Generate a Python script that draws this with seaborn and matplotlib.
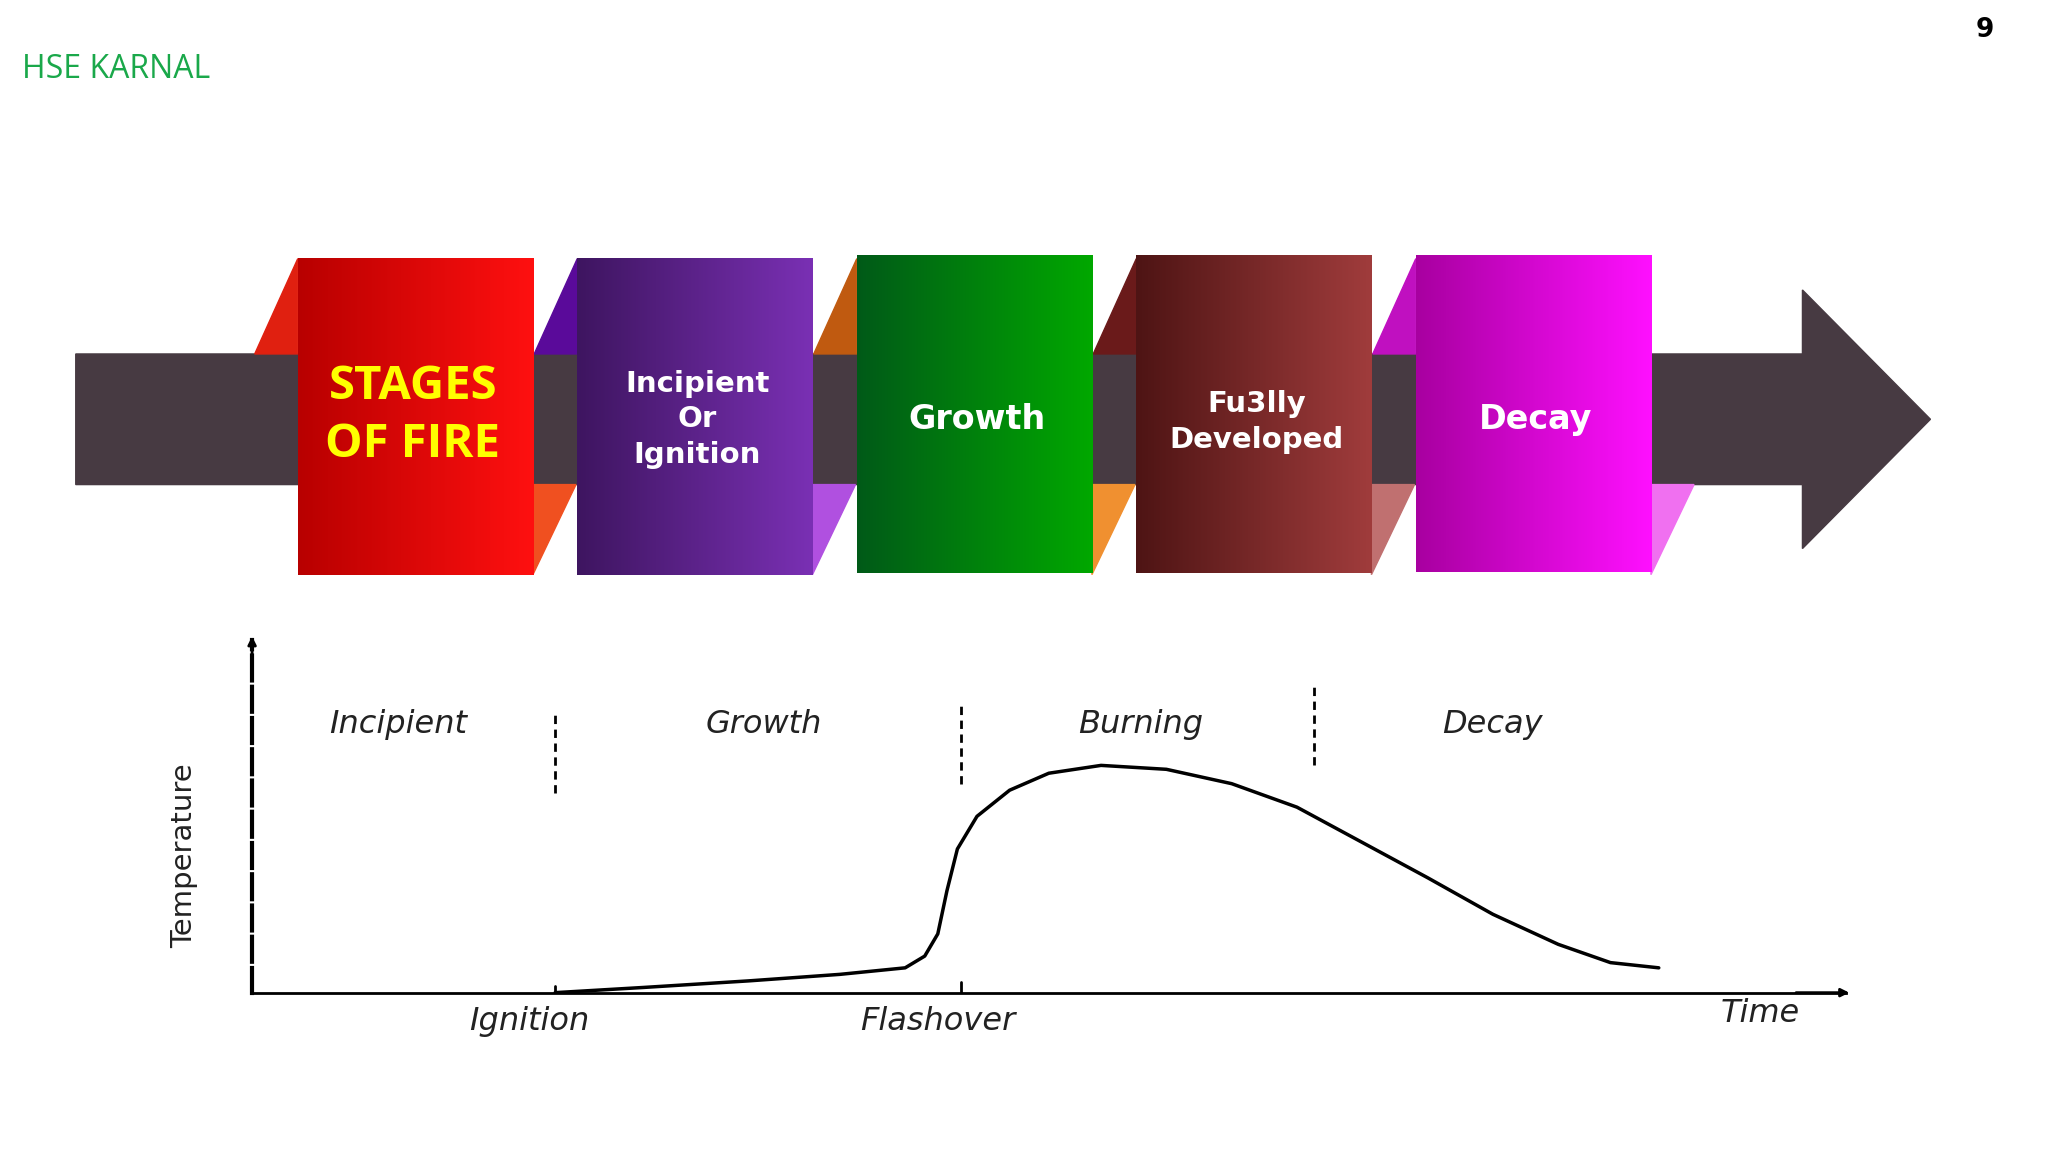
import numpy as np
import matplotlib
matplotlib.use("Agg")
import matplotlib.pyplot as plt
import matplotlib.colors as mcolors
from matplotlib.patches import Polygon
import pandas as pd
import seaborn as sns

sns.set_theme(style="white")
plt.rcParams['font.family'] = ['DejaVu Sans']

# ---- data ----
stage_labels = ["STAGES\nOF FIRE", "Incipient\nOr\nIgnition", "Growth", "Fu3lly\nDeveloped", "Decay"]
stage_dark = ["#b80000", "#3e1560", "#005a18", "#4e1414", "#a800a0"]
stage_light = ["#ff1010", "#7a30b4", "#00a800", "#a03c3c", "#ff10ff"]
shard_top = ["#e02010", "#5a0a9a", "#c05a10", "#6a1a1a", "#c010c0"]
shard_bot = ["#f05020", "#b050e0", "#f09030", "#c07070", "#f070f0"]
time_vals = [232, 300, 380, 450, 500, 515, 525, 532, 540, 555, 580, 610, 650, 700, 750, 800, 850, 900, 950, 1000, 1040, 1077]
temp_vals = [0, 4, 9, 14, 19, 28, 45, 78, 110, 135, 155, 168, 174, 171, 160, 142, 115, 88, 60, 37, 23, 19]
phase_names = ["Incipient", "Growth", "Burning", "Decay"]
phase_pos = [112, 392, 680, 950]
boundaries = [232, 543, 813]
tick_labels = ["Ignition", "Flashover"]
tick_pos = [212, 525]

W, H = 1568, 882
fig = plt.figure(figsize=(20.48, 11.52), dpi=100)
ax = fig.add_axes([0, 0, 1, 1])
ax.set_xlim(0, W); ax.set_ylim(H, 0); ax.axis("off")

band = "#473a42"
ax.add_patch(Polygon([(58, 271), (1380, 271), (1380, 222), (1478, 321), (1380, 420), (1380, 371), (58, 371)], closed=True, color=band, zorder=1))

lefts = [228, 442, 656, 870, 1084]
tops = [198, 198, 196, 196, 196]
bots = [440, 440, 439, 439, 438]
bw = 180
for i, l in enumerate(lefts):
    r = l + bw
    ax.add_patch(Polygon([(l - 33, 271), (l, 198), (l, 271)], closed=True, color=shard_top[i], zorder=2))
    ax.add_patch(Polygon([(r, 371), (r + 33, 371), (r, 440)], closed=True, color=shard_bot[i], zorder=2))
    cmap = mcolors.LinearSegmentedColormap.from_list("g", [stage_dark[i], stage_light[i]])
    grad = np.linspace(0, 1, 256).reshape(1, -1)
    ax.imshow(grad, cmap=cmap, extent=[l, r, bots[i], tops[i]], aspect="auto", zorder=3)
    if i == 0:
        ax.text(l + 88, 318, stage_labels[i], color="#ffff00", fontsize=34, fontweight="bold",
                ha="center", va="center", family="Open Sans", linespacing=1.3, zorder=4)
    else:
        ax.text(l + 92, 321 if i != 3 else 323, stage_labels[i], color="white", fontsize=21 if i != 2 and i != 4 else 24,
                fontweight="bold", ha="center", va="center", linespacing=1.35, zorder=4)
ax.set_xlim(0, W); ax.set_ylim(H, 0)

fig.text(17 / W, 1 - 53 / H, "HSE KARNAL", color="#1aa84a", fontsize=23, va="center", family="Open Sans")
fig.text(1520 / W, 1 - 23 / H, "9", color="black", fontsize=19, fontweight="bold", ha="center", va="center")

# ---- chart ----
x0, y0, x1, y1 = 193, 760, 1413, 490
cax = fig.add_axes([x0 / W, 1 - y0 / H, (x1 - x0) / W, (y0 - y1) / H])
df = pd.DataFrame({"time": time_vals, "temp": temp_vals})
sns.lineplot(data=df, x="time", y="temp", ax=cax, color="black", lw=2.5)
cax.set_xlim(0, x1 - x0); cax.set_ylim(0, y0 - y1)
cax.set_facecolor("none")
for s in ["top", "right"]:
    cax.spines[s].set_visible(False)
cax.spines["left"].set_linestyle((0, (6, 1.5)))
cax.spines["left"].set_linewidth(3)
cax.spines["bottom"].set_linewidth(2)
cax.spines["left"].set_color("black"); cax.spines["bottom"].set_color("black")
cax.set_xticks([]); cax.set_yticks([]); cax.set_xlabel(""); cax.set_ylabel("")
cax.annotate("", xy=(1225, 0), xytext=(1180, 0), arrowprops=dict(arrowstyle="-|>", color="black", lw=2), annotation_clip=False)
cax.annotate("", xy=(0, 275), xytext=(0, 250), arrowprops=dict(arrowstyle="-|>", color="black", lw=2), annotation_clip=False)
for b, top in zip(boundaries, [215, 222, 236]):
    cax.plot([b, b], [top - 62, top], color="black", lw=2, ls=(0, (3, 2)))
cax.plot([232, 232], [-5, 5], color="black", lw=2)
cax.plot([543, 543], [-8, 8], color="black", lw=2)
for n, p in zip(phase_names, phase_pos):
    cax.text(p, 205, n, fontsize=23, style="italic", ha="center", va="center", color="#222222", family="DejaVu Sans")
for n, p in zip(tick_labels, tick_pos):
    cax.text(p, -22, n, fontsize=23, style="italic", ha="center", va="center", color="#222222")
cax.text(1155, -16, "Time", fontsize=23, style="italic", ha="center", va="center", color="#222222")
cax.text(-52, 105, "Temperature", fontsize=21, rotation=90, ha="center", va="center", color="#222222",
         family="Liberation Sans Narrow")

fig.savefig("out.png", dpi=100)
